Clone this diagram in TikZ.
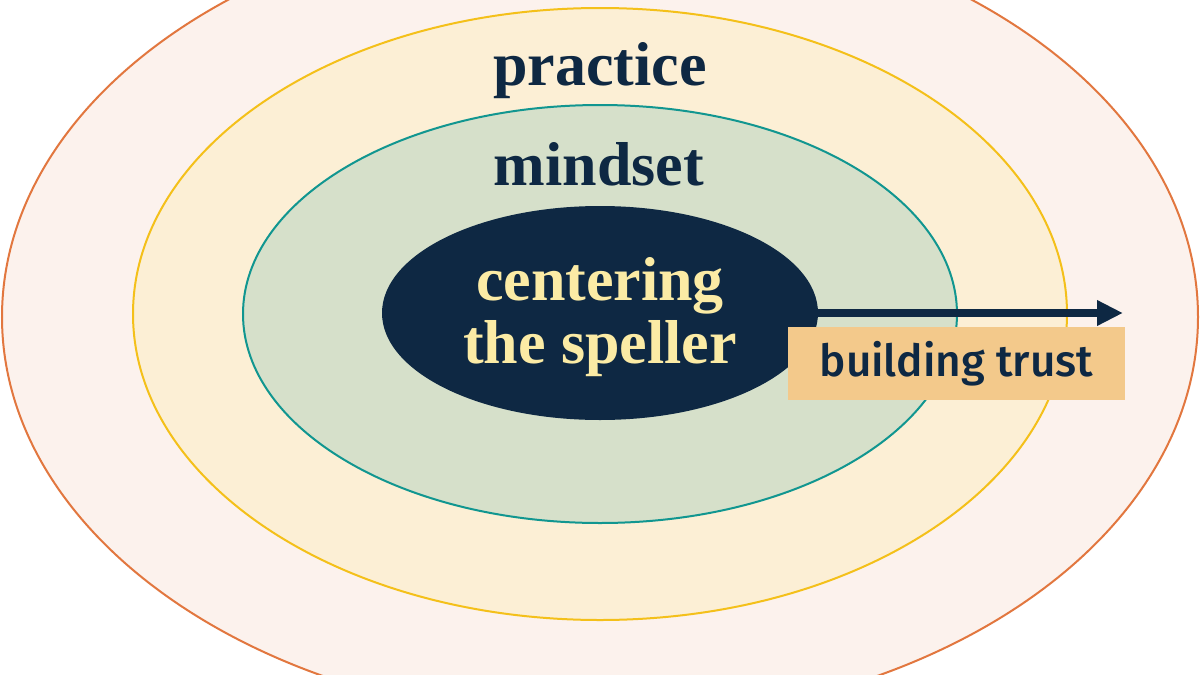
\documentclass[tikz,border=0pt]{standalone}
\usepackage{fontspec}
\usepackage{tikz}
\usetikzlibrary{arrows.meta,shapes.geometric,positioning}
\newfontfamily\ringfont{Liberation Serif}
\newfontfamily\tagfont{Fira Sans Medium}
\definecolor{outerfill}{HTML}{FCF2ED}
\definecolor{outerline}{HTML}{E2773F}
\definecolor{practicefill}{HTML}{FCEFD5}
\definecolor{practiceline}{HTML}{F4C01A}
\definecolor{mindsetfill}{HTML}{D6E0CA}
\definecolor{mindsetline}{HTML}{119690}
\definecolor{navy}{HTML}{0E2843}
\definecolor{cream}{HTML}{FBEBA5}
\definecolor{tagfill}{HTML}{F3C98B}

\begin{document}
\begin{tikzpicture}[x=0.5pt,y=-0.5pt,
  ring/.style={line width=1pt},
  ringlabel/.style={font=\ringfont\bfseries\fontsize{31}{37}\selectfont, text=navy, anchor=base, inner sep=0pt},
  corelabel/.style={ringlabel, text=cream},
  corenode/.style={ellipse, fill=navy, inner sep=0pt, minimum width=218pt, minimum height=107pt},
  tagbox/.style={fill=tagfill, text=navy, font=\tagfont\fontsize{22.1}{27}\selectfont, minimum width=168.5pt, minimum height=36.5pt, inner sep=0pt},
  trustarrow/.style={draw=navy, line width=4pt, -{Triangle[length=13pt,width=12pt]}}]
\clip (0,0) rectangle (1200,675);
\fill[white] (0,0) rectangle (1200,675);
\draw[ring, draw=outerline, fill=outerfill] (600,317) ellipse [x radius=299pt, y radius=202.5pt];
\draw[ring, draw=practiceline, fill=practicefill] (600,314) ellipse [x radius=233.5pt, y radius=153pt];
\draw[ring, draw=mindsetline, fill=mindsetfill] (600,314) ellipse [x radius=178.5pt, y radius=104.5pt];
\node[corenode] (core) at (600,313) {};
\node[ringlabel] (practice) at (600,85) {practice};
\node[ringlabel] (mindset) at (599,185) {mindset};
\node[corelabel] (centering) at (600,300) {centering};
\node[corelabel] (speller) at (600,363) {the speller};
\coordinate (tip) at (1123,313);
\draw[trustarrow] (core.east) -- (tip);
\node[tagbox] (trust) at (956.5,363.5) {building trust};
\end{tikzpicture}
\end{document}
